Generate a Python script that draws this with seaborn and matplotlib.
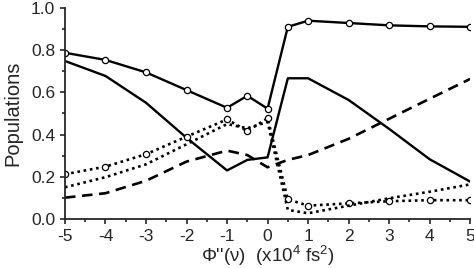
import matplotlib
matplotlib.use('Agg')
import matplotlib.pyplot as plt
import seaborn as sns
import pandas as pd
from matplotlib.ticker import MultipleLocator

# chirp values (x10^4 fs^2)
chirp = [-5, -4, -3, -2, -1, -0.5, 0, 0.5, 1, 2, 3, 4, 5]

# populations
pop_solid_marker = [0.788, 0.754, 0.695, 0.611, 0.527, 0.584, 0.523, 0.911, 0.940, 0.929, 0.918, 0.913, 0.911]
pop_solid = [0.749, 0.678, 0.551, 0.385, 0.230, 0.280, 0.292, 0.667, 0.667, 0.564, 0.427, 0.283, 0.177]
pop_dashed = [0.101, 0.122, 0.181, 0.272, 0.324, 0.303, 0.245, 0.280, 0.303, 0.380, 0.475, 0.570, 0.664]
pop_dot_marker = [0.212, 0.248, 0.307, 0.390, 0.472, 0.417, 0.477, 0.093, 0.063, 0.074, 0.084, 0.089, 0.089]
pop_dot = [0.150, 0.198, 0.259, 0.354, 0.450, 0.430, 0.460, 0.043, 0.027, 0.063, 0.098, 0.129, 0.164]

dados = pd.DataFrame({'chirp': chirp, 'a': pop_solid_marker, 'b': pop_solid,
                      'c': pop_dashed, 'd': pop_dot_marker, 'e': pop_dot})

sns.set_style('ticks')
plt.rcParams['font.family'] = ['Liberation Sans', 'DejaVu Sans']
plt.rcParams['mathtext.fontset'] = 'custom'
plt.rcParams['mathtext.rm'] = 'Liberation Sans'
plt.rcParams['axes.unicode_minus'] = False

fig = plt.figure(figsize=(4.74, 2.68), dpi=100)
ax = fig.add_axes([0.137, 0.183, 0.855, 0.787])

mk = dict(marker='o', markersize=4.5, markerfacecolor='white', markeredgecolor='black', markeredgewidth=0.9)
sns.lineplot(data=dados, x='chirp', y='a', color='black', lw=1.7, ax=ax, **mk)
sns.lineplot(data=dados, x='chirp', y='b', color='black', lw=1.7, ax=ax)
sns.lineplot(data=dados, x='chirp', y='c', color='black', lw=1.9, ax=ax, linestyle=(0, (4, 2.5)))
sns.lineplot(data=dados, x='chirp', y='d', color='black', lw=1.9, ax=ax, linestyle=(0, (1, 1.4)), **mk)
sns.lineplot(data=dados, x='chirp', y='e', color='black', lw=1.9, ax=ax, linestyle=(0, (1, 1.4)))

ax.set_xlim(-5, 5)
ax.set_ylim(0, 1.0)
ax.xaxis.set_major_locator(MultipleLocator(1))
ax.xaxis.set_minor_locator(MultipleLocator(0.5))
ax.yaxis.set_major_locator(MultipleLocator(0.2))
ax.yaxis.set_minor_locator(MultipleLocator(0.1))
ax.tick_params(which='both', direction='out', width=1.2, labelsize=12.5)
ax.tick_params(which='major', length=3.5)
ax.tick_params(which='minor', length=2)
ax.tick_params(axis='x', pad=4)
ax.tick_params(axis='y', pad=3.5)
for s in ['left', 'bottom']:
    ax.spines[s].set_linewidth(1.3)
sns.despine(ax=ax)

ax.set_xlabel("Φ''(ν)  (x10$^4$ fs$^2$)", fontsize=13.5, labelpad=-1)
ax.set_ylabel('Populations', fontsize=14.5, labelpad=6)

fig.savefig('out.png', dpi=100)
